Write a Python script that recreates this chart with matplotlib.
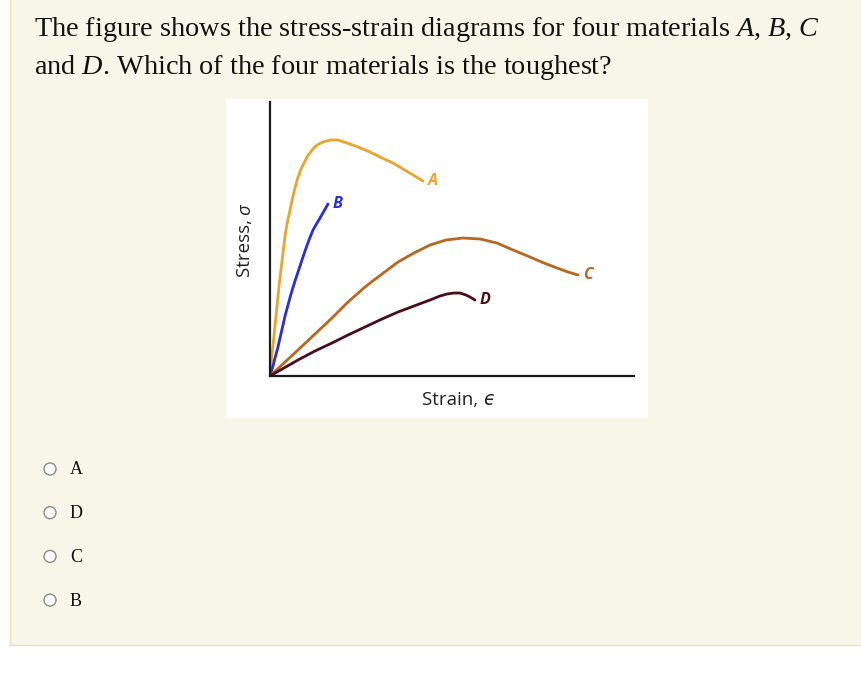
import matplotlib
matplotlib.use("Agg")
import matplotlib.pyplot as plt
from matplotlib.patches import Rectangle, Circle

plt.rcParams['mathtext.fontset'] = 'custom'
plt.rcParams['mathtext.rm'] = 'Liberation Serif'
plt.rcParams['mathtext.it'] = 'Liberation Serif:italic'

# stress-strain curves (arbitrary units)
strain_a = [0, 1, 3, 6, 9, 12, 15, 17, 20, 23, 27, 31, 37, 42, 47, 53, 60, 68, 77, 88, 100, 112, 123, 138, 153]
stress_a = [0, 12, 30, 60, 90, 115, 140, 152, 166, 180, 196, 207, 219, 226, 231, 234, 236, 236, 233, 229, 224, 218, 213, 204, 195]
strain_b = [0, 3, 5, 8, 10, 13, 15, 18, 21, 25, 28, 31, 35, 39, 43, 47, 50, 54, 58]
stress_b = [0, 10, 18, 29, 38, 51, 60, 71, 82, 95, 104, 113, 125, 136, 146, 153, 158, 165, 172]
strain_c = [0, 14, 28, 45, 62, 78, 95, 104, 112, 120, 128, 144, 160, 176, 193, 210, 227, 243, 260, 274, 287, 298, 308]
stress_c = [0, 13, 26, 42, 58, 74, 89, 96, 102, 108, 114, 123, 131, 136, 138, 137, 133, 126, 119, 113, 108, 104, 101]
strain_d = [0, 14, 28, 45, 62, 78, 95, 112, 128, 144, 160, 170, 177, 184, 190, 196, 200, 205]
stress_d = [0, 8, 16, 25, 33, 41, 49, 57, 64, 70, 76, 80, 82, 83, 83, 81, 79, 76]

names = ['A', 'B', 'C', 'D']
colors = ['#eba62a', '#2b2be0', '#b8671f', '#4a0d1d']
options = ['A', 'D', 'C', 'B']

question_1 = 'The figure shows the stress-strain diagrams for four materials $A$, $B$, $C$'
question_2 = 'and $D$. Which of the four materials is the toughest?'

W, H = 861, 688
fig = plt.figure(figsize=(W / 100, H / 100), dpi=100)
fig.patch.set_facecolor('white')

# page background drawn in pixel coordinates
bg = fig.add_axes([0, 0, 1, 1])
bg.set_xlim(0, W)
bg.set_ylim(H, 0)
bg.axis('off')
bg.add_patch(Rectangle((10, -5), W, 650, facecolor='#f8f6e8', edgecolor='#e6e1bf', lw=1))
bg.add_patch(Rectangle((226, 99), 422, 319, facecolor='white', edgecolor='none'))

bg.text(34, 30, question_1, fontsize=20.3, family='Liberation Serif', va='center', color='#111111')
bg.text(34, 68, question_2, fontsize=20.3, family='Liberation Serif', va='center', color='#111111')

for i, opt in enumerate(options):
    y = 469 + i * 43.7
    bg.add_patch(Circle((50, y), 6, facecolor='#fdfdfd', edgecolor='#8a8a8a', lw=1))
    bg.text(70, y + 1, opt, fontsize=13, family='Liberation Serif', va='center', color='#111111')

sans = ['Open Sans', 'DejaVu Sans']
t1 = bg.text(245, 246, 'Stress, ', fontsize=13.5, family=sans, rotation=90,
             ha='center', va='center', color='#222222')
bg.annotate('σ', xy=(1, 1), xycoords=t1, fontsize=13.5, family=sans, style='italic',
            rotation=90, ha='right', va='bottom', color='#222222')
t2 = bg.text(453, 400, 'Strain, ', fontsize=13.5, family=sans,
             ha='center', va='center', color='#222222')
bg.annotate('ϵ', xy=(1, 0), xycoords=t2, fontsize=13.5, family=sans, style='italic',
            ha='left', va='bottom', color='#222222')

# the chart itself
ax = fig.add_axes([270 / W, 1 - 376 / H, 364 / W, 274 / H])
ax.patch.set_alpha(0)
ax.set_xlim(0, 364)
ax.set_ylim(0, 274)
ax.set_xticks([])
ax.set_yticks([])
for s in ['top', 'right']:
    ax.spines[s].set_visible(False)
for s in ['left', 'bottom']:
    ax.spines[s].set_linewidth(1.6)
    ax.spines[s].set_color('#1a1a1a')

curves = [(strain_a, stress_a), (strain_b, stress_b), (strain_c, stress_c), (strain_d, stress_d)]
for (x, y), c, n in zip(curves, colors, names):
    ax.plot(x, y, color=c, lw=2, solid_capstyle='round', solid_joinstyle='round')
    ax.text(x[-1] + 5, y[-1], n, color=c, fontsize=11.5, fontweight='bold', fontstyle='italic',
            family=sans, ha='left', va='center')

fig.savefig('out.png', dpi=100)
